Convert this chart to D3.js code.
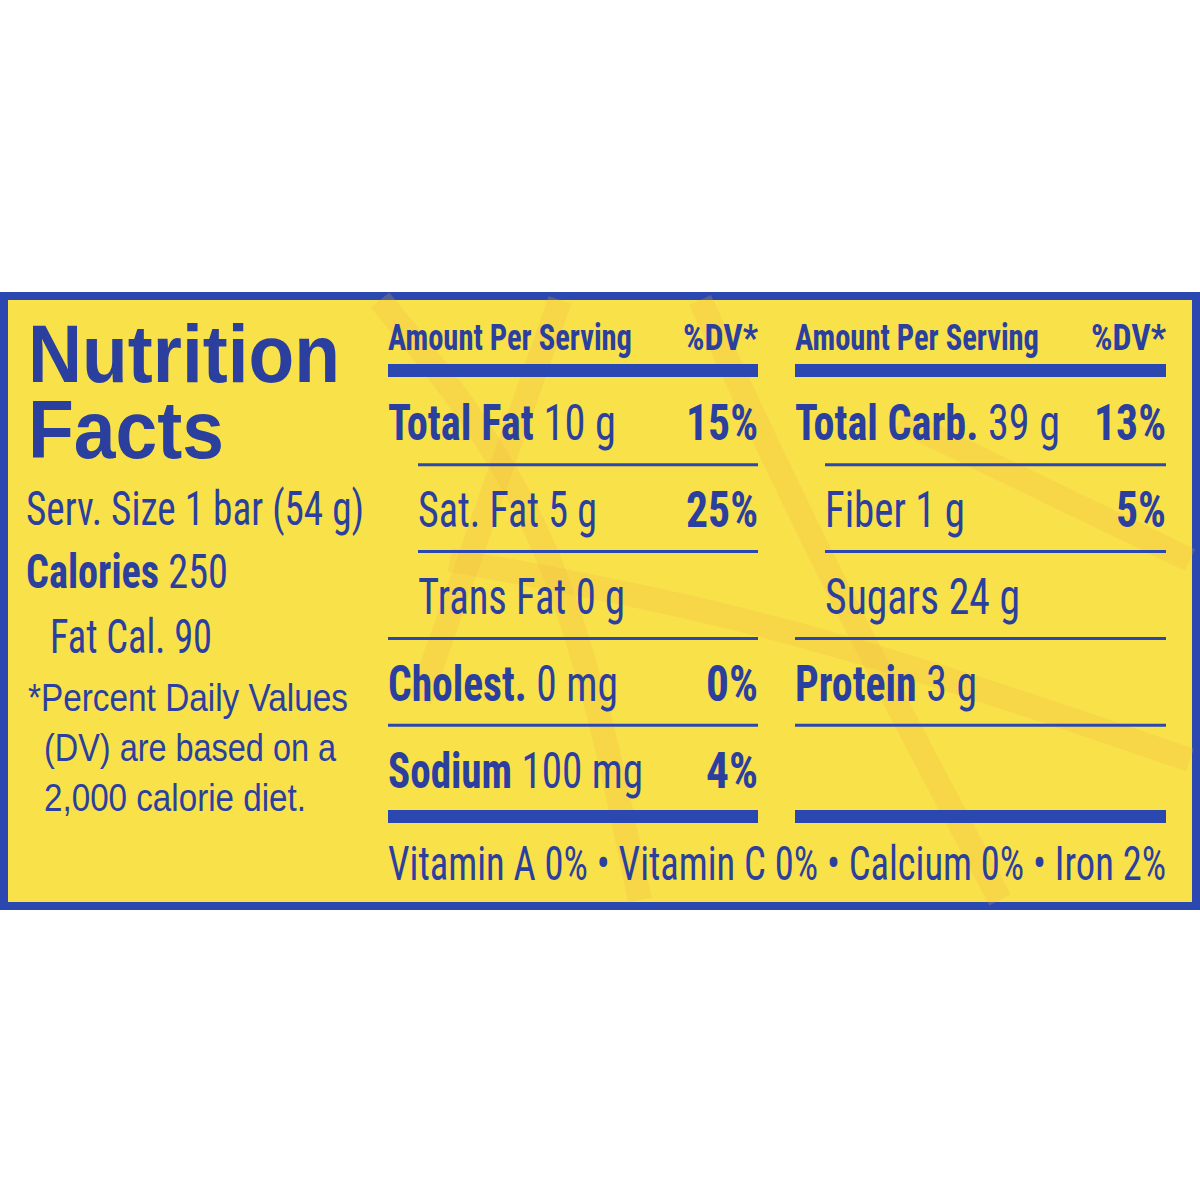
<!DOCTYPE html>
<html><head><meta charset="utf-8">
<script src="https://cdn.jsdelivr.net/npm/d3@7"></script>
<style>body{margin:0;background:#fff}text{font-family:"Liberation Sans Narrow","Roboto Condensed","Liberation Sans",sans-serif;fill:#2b3f9e}</style>
</head><body>
<svg width="1200" height="1200"></svg>
<script>
var leftRows = [
  {bold: "Total Fat", rest: " 10 g", dv: "15%", indent: false},
  {bold: "", rest: "Sat. Fat 5 g", dv: "25%", indent: true},
  {bold: "", rest: "Trans Fat 0 g", dv: "", indent: true},
  {bold: "Cholest.", rest: " 0 mg", dv: "0%", indent: false},
  {bold: "Sodium", rest: " 100 mg", dv: "4%", indent: false}
];
var rightRows = [
  {bold: "Total Carb.", rest: " 39 g", dv: "13%", indent: false},
  {bold: "", rest: "Fiber 1 g", dv: "5%", indent: true},
  {bold: "", rest: "Sugars 24 g", dv: "", indent: true},
  {bold: "Protein", rest: " 3 g", dv: "", indent: false},
  {bold: "", rest: "", dv: "", indent: false}
];
var vitamins = "Vitamin A 0% \u2022 Vitamin C 0% \u2022 Calcium 0% \u2022 Iron 2%";

// rendered text widths measured off the label (styling, not data)
var widths = {
  "Total Fat 10 g": 228, "Sat. Fat 5 g": 179, "Trans Fat 0 g": 207, "Cholest. 0 mg": 230, "Sodium 100 mg": 255,
  "Total Carb. 39 g": 265, "Fiber 1 g": 140, "Sugars 24 g": 195, "Protein 3 g": 182,
  "15%": 72, "25%": 72, "13%": 72, "0%": 52, "4%": 52, "5%": 50
};

var svg = d3.select("svg"), blue = "#2b48b0";
function fit(t, w) { if (w) t.attr("textLength", w).attr("lengthAdjust", "spacingAndGlyphs"); return t; }

svg.append("rect").attr("x", 4).attr("y", 296).attr("width", 1192).attr("height", 610)
  .attr("fill", "#f9e14a").attr("stroke", blue).attr("stroke-width", 8);

var streaks = [[[380,300],[560,520],[640,900]],[[700,300],[820,560],[1000,900]],[[900,420],[1190,560]],[[450,560],[780,620],[1190,760]],[[560,300],[420,700]]];
streaks.forEach(function(s){
  svg.append("path").attr("d", d3.line().curve(d3.curveBasis)(s)).attr("fill","none")
    .attr("stroke","#f2b640").attr("stroke-width",24).attr("opacity",0.22);
});

var bigFont = "'Liberation Sans',sans-serif";
fit(svg.append("text").attr("x",28).attr("y",382).attr("font-size",82).attr("font-weight","bold")
  .style("font-family",bigFont).text("Nutrition"), 312);
fit(svg.append("text").attr("x",28).attr("y",458).attr("font-size",82).attr("font-weight","bold")
  .style("font-family",bigFont).text("Facts"), 196);
fit(svg.append("text").attr("x",26).attr("y",525).attr("font-size",48).text("Serv. Size 1 bar (54 g)"), 338);
var cal = fit(svg.append("text").attr("x",26).attr("y",588).attr("font-size",48), 202);
cal.append("tspan").attr("font-weight","bold").text("Calories");
cal.append("tspan").text(" 250");
fit(svg.append("text").attr("x",50).attr("y",653).attr("font-size",48).text("Fat Cal. 90"), 162);
[["*Percent Daily Values",320],["(DV) are based on a",292],["2,000 calorie diet.",262]].forEach(function(t,i){
  fit(svg.append("text").attr("x", i ? 44 : 28).attr("y",711+i*50).attr("font-size",38)
    .style("font-family",bigFont).text(t[0]), t[1]);
});

var y = d3.scaleBand().domain(d3.range(5)).range([378, 812]);

function column(x0, x1, rows) {
  var g = svg.append("g");
  fit(g.append("text").attr("x",x0).attr("y",350).attr("font-size",36).attr("font-weight","bold").text("Amount Per Serving"), 244);
  fit(g.append("text").attr("x",x1-75).attr("y",350).attr("font-size",36).attr("font-weight","bold").text("%DV*"), 75);
  g.append("rect").attr("x",x0).attr("y",364).attr("width",x1-x0).attr("height",13).attr("fill",blue);
  g.append("rect").attr("x",x0).attr("y",810).attr("width",x1-x0).attr("height",13).attr("fill",blue);
  rows.forEach(function(r,i){
    var by = y(i) + y.bandwidth()*0.72;
    var t = g.append("text").attr("x", r.indent ? x0+30 : x0).attr("y", by).attr("font-size",50);
    fit(t, widths[r.bold + r.rest]);
    if (r.bold) t.append("tspan").attr("font-weight","bold").text(r.bold);
    t.append("tspan").text(r.rest);
    if (r.dv) {
      var w = widths[r.dv];
      fit(g.append("text").attr("x",x1-w).attr("y",by).attr("font-size",50).attr("font-weight","bold").text(r.dv), w);
    }
    if (i < 4) {
      var lx = rows[i+1].indent ? x0+30 : x0;
      g.append("line").attr("x1",lx).attr("x2",x1).attr("y1",y(i+1)).attr("y2",y(i+1)).attr("stroke",blue).attr("stroke-width",3);
    }
  });
}
column(388, 758, leftRows);
column(795, 1166, rightRows);

fit(svg.append("text").attr("x",388).attr("y",880).attr("font-size",48).text(vitamins), 778);
</script>
</body></html>
